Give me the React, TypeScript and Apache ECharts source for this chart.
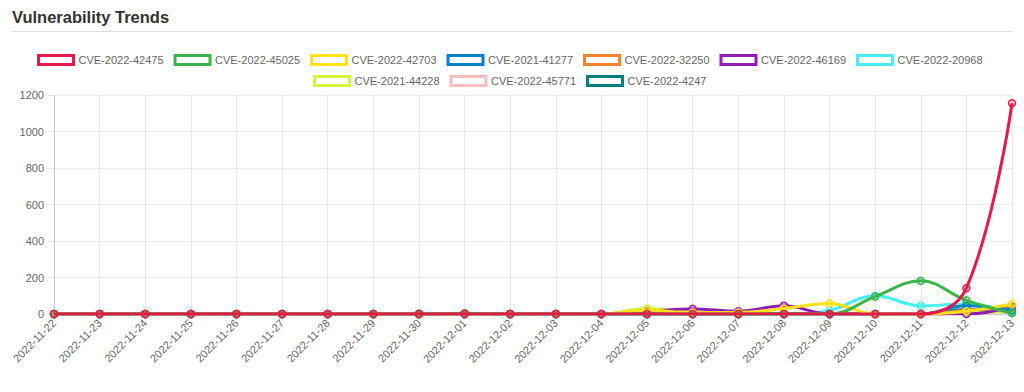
import React, { useEffect, useRef } from "react";
import * as echarts from "echarts";

const dates = [
  "2022-11-22", "2022-11-23", "2022-11-24", "2022-11-25", "2022-11-26", "2022-11-27",
  "2022-11-28", "2022-11-29", "2022-11-30", "2022-12-01", "2022-12-02", "2022-12-03",
  "2022-12-04", "2022-12-05", "2022-12-06", "2022-12-07", "2022-12-08", "2022-12-09",
  "2022-12-10", "2022-12-11", "2022-12-12", "2022-12-13",
];

const seriesNames = [
  "CVE-2022-42475", "CVE-2022-45025", "CVE-2022-42703", "CVE-2021-41277", "CVE-2022-32250",
  "CVE-2022-46169", "CVE-2022-20968", "CVE-2021-44228", "CVE-2022-45771", "CVE-2022-4247",
];

const seriesColors = [
  "#e6194b", "#3cb44b", "#ffe119", "#0082c8", "#f58231",
  "#911eb4", "#46f0f0", "#d2f53c", "#fabebe", "#008080",
];

const cve202242475 = [0, 0, 0, 0, 0, 0, 0, 0, 0, 0, 0, 0, 0, 0, 0, 0, 0, 0, 0, 0, 142, 1155];
const cve202245025 = [0, 0, 0, 0, 0, 0, 0, 0, 0, 4, 0, 0, 0, 0, 0, 0, 0, 0, 95, 182, 75, 5];
const cve202242703 = [0, 0, 0, 0, 0, 0, 0, 0, 0, 0, 0, 0, 0, 20, 8, 8, 30, 58, 0, 0, 15, 55];
const cve202141277 = [0, 0, 0, 0, 0, 0, 0, 0, 0, 0, 0, 0, 0, 0, 0, 0, 0, 0, 0, 0, 45, 20];
const cve202232250 = [0, 0, 0, 0, 0, 0, 0, 0, 0, 0, 0, 0, 0, 0, 0, 0, 0, 0, 0, 0, 20, 35];
const cve202246169 = [0, 0, 0, 0, 0, 0, 0, 0, 0, 0, 0, 0, 0, 15, 28, 15, 45, 0, 0, 0, 0, 40];
const cve202220968 = [0, 0, 0, 0, 0, 0, 0, 0, 0, 0, 0, 0, 0, 0, 0, 0, 0, 20, 100, 45, 55, 10];
const cve202144228 = [0, 0, 0, 0, 0, 0, 0, 0, 0, 0, 0, 0, 0, 30, 8, 3, 0, 0, 0, 0, 5, 15];
const cve202245771 = [0, 0, 0, 0, 0, 0, 0, 0, 0, 0, 0, 0, 0, 0, 0, 0, 0, 0, 0, 0, 5, 12];
const cve20224247 = [0, 0, 0, 0, 0, 0, 0, 0, 0, 0, 0, 0, 0, 0, 0, 0, 0, 0, 0, 0, 25, 8];

const seriesValues = [
  cve202242475, cve202245025, cve202242703, cve202141277, cve202232250,
  cve202246169, cve202220968, cve202144228, cve202245771, cve20224247,
];

const yTicks = { min: 0, max: 1200, interval: 200 };

const FONT = "Liberation Sans, Arial, Helvetica, sans-serif";

function hexToRgba(hex: string, a: number) {
  const n = parseInt(hex.slice(1), 16);
  return `rgba(${(n >> 16) & 255},${(n >> 8) & 255},${n & 255},${a})`;
}

export default function App() {
  const ref = useRef<HTMLDivElement>(null);

  useEffect(() => {
    if (!ref.current) return;
    const chart = echarts.init(ref.current, undefined, { renderer: "svg" });

    const legendItem = (i: number) => ({
      name: seriesNames[i],
      itemStyle: { color: "#fff", borderColor: seriesColors[i], borderWidth: 3 },
    });

    const legendCommon = {
      orient: "horizontal" as const,
      icon: "rect",
      padding: 0,
      itemWidth: 35,
      itemHeight: 9,
      itemGap: 10,
      textStyle: { color: "#666", fontSize: 11, fontFamily: FONT },
      selectedMode: false,
    };

    chart.setOption({
      animation: false,
      textStyle: { fontFamily: FONT },
      title: {
        text: "Vulnerability Trends",
        left: 12,
        top: 8,
        padding: 0,
        textStyle: { fontSize: 16.5, fontWeight: "bold", color: "#333", fontFamily: FONT },
      },
      graphic: [
        {
          type: "line",
          shape: { x1: 12, y1: 31.5, x2: 1012, y2: 31.5 },
          style: { stroke: "#dddddd", lineWidth: 1 },
        },
      ],
      legend: [
        { ...legendCommon, left: 37, top: 54, data: [0, 1, 2, 3, 4, 5, 6].map(legendItem) },
        { ...legendCommon, left: 313, top: 75, data: [7, 8, 9].map(legendItem) },
      ],
      grid: { left: 54, right: 12, top: 95, bottom: 78, containLabel: false },
      xAxis: {
        type: "category",
        data: dates,
        boundaryGap: false,
        axisLine: { show: true, lineStyle: { color: "#cccccc" } },
        axisTick: { show: true, length: 6, lineStyle: { color: "#e6e6e6" } },
        splitLine: { show: true, lineStyle: { color: "#e8e8e8" } },
        axisLabel: { interval: 0, rotate: 45, color: "#666", fontSize: 11, margin: 7, fontFamily: FONT },
      },
      yAxis: {
        type: "value",
        min: yTicks.min,
        max: yTicks.max,
        interval: yTicks.interval,
        axisLine: { show: true, lineStyle: { color: "#cccccc" } },
        axisTick: { show: true, length: 8, lineStyle: { color: "#e6e6e6" } },
        splitLine: { show: true, lineStyle: { color: "#ececec" } },
        axisLabel: {
          color: "#666",
          fontSize: 11,
          margin: 10,
          fontFamily: FONT,
          formatter: (v: number) => String(v),
        },
      },
      series: seriesNames.map((name, i) => ({
        name,
        type: "line",
        data: seriesValues[i],
        smooth: 0.4,
        z: 30 - i,
        symbol: "circle",
        symbolSize: 7,
        showSymbol: true,
        lineStyle: { color: seriesColors[i], width: 3 },
        itemStyle: {
          color: hexToRgba(seriesColors[i], 0.2),
          borderColor: seriesColors[i],
          borderWidth: 1.5,
        },
      })),
    });

    return () => chart.dispose();
  }, []);

  return (
    <div
      ref={ref}
      style={{ position: "fixed", left: 0, top: 0, width: 1024, height: 392, background: "#fff" }}
    />
  );
}
